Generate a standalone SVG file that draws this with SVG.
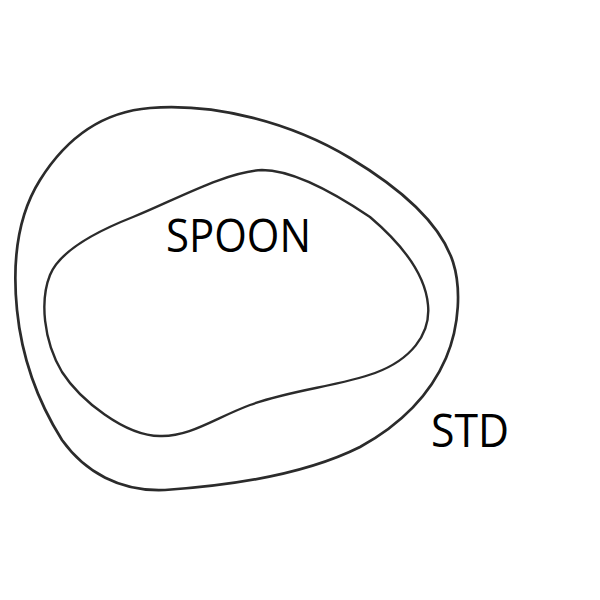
<svg xmlns="http://www.w3.org/2000/svg" width="600" height="600" viewBox="0 0 600 600">
<style>
.blob{fill:none;stroke:#2b2b2b;stroke-linejoin:round}
.lbl{font-family:"Open Sans","Noto Sans",sans-serif;font-size:46px;fill:#000}
</style>
<rect width="600" height="600" fill="#fff"/>
<g id="std">
<path class="blob" stroke-width="2.7" d="M150,108 C215,103 290,122 350,158 C400,188 440,222 453,262 C461,287 460,325 446,358 C430,395 400,425 360,447 C310,472 240,485 165,490 C120,492 85,472 62,440 C40,405 22,360 17,310 C12,260 18,215 40,180 C65,140 100,112 150,108 Z"/>
<text class="lbl" x="431" y="447" textLength="78" lengthAdjust="spacingAndGlyphs">STD</text>
</g>
<g id="spoon">
<path class="blob" stroke-width="2.4" d="M262,170 C290,170 330,190 370,217 C397,240 425,270 428,305 C431,335 410,360 375,373 C340,386 290,390 250,405 C215,418 190,437 160,436 C125,436 80,400 62,372 C43,340 40,300 50,275 C60,250 100,230 133,217 C175,200 225,172 262,170 Z"/>
<text class="lbl" x="166" y="252" textLength="145" lengthAdjust="spacingAndGlyphs">SPOON</text>
</g>
</svg>
